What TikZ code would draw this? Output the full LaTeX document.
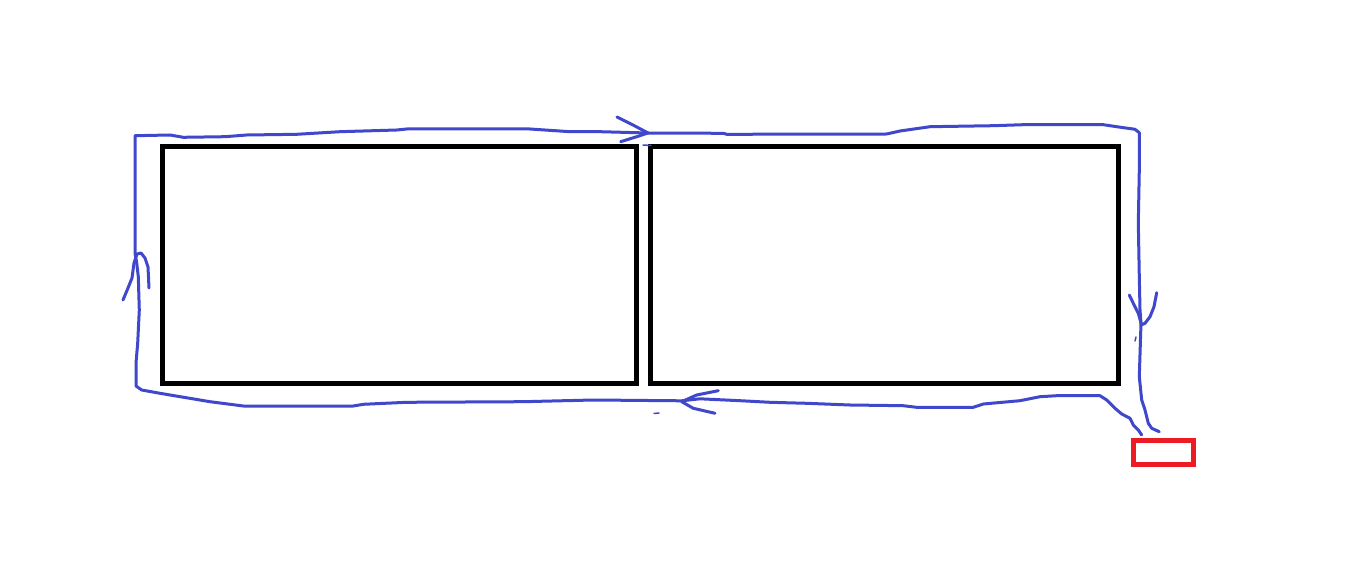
\documentclass[tikz,border=0pt]{standalone}
\definecolor{penblue}{RGB}{63,72,204}
\definecolor{penred}{RGB}{237,28,36}
\begin{document}
\begin{tikzpicture}[x=1pt,y=-1pt,
  box/.style={draw=black,line width=5pt,inner sep=0pt,outer sep=0pt},
  redbox/.style={draw=penred,line width=5pt,inner sep=0pt,outer sep=0pt},
  sketch/.style={draw=penblue,line width=3pt,line cap=round,line join=round},
  speck/.style={draw=penblue,line width=1.5pt,line cap=round}]
\fill[white] (0,0) rectangle (1347,588);
\useasboundingbox (0,0) rectangle (1347,588);
% rectangles
\node[box,minimum width=474pt,minimum height=237pt] (L) at (399.5,265) {};
\node[box,minimum width=468pt,minimum height=237pt] (R) at (884.5,265) {};
\node[redbox,minimum width=60pt,minimum height=24pt] (T) at (1163.5,452) {};
% named ends of the hand-drawn loop
\coordinate (bstart) at (1141.7,435);
\coordinate (rend) at (1159.3,431.7);
% hand-drawn loop
\draw[sketch] (bstart) -- (1138.3,430) -- (1133.3,425) -- (1130,418.3) -- (1121.7,414)
  -- (1115,408.3) -- (1106.7,400) -- (1100,395.7) -- (1056.7,395.7) -- (1040,396.7)
  -- (1020,400.7) -- (983.3,404) -- (973.3,407.3) -- (916.7,407.3) -- (903,405.7)
  -- (850,405) -- (806.7,403.3) -- (770,402.3) -- (740,400.7) -- (700,398.8)
  -- (681.7,400.8) -- (593.3,400) -- (523.3,401.7) -- (406.7,402.3) -- (363.3,404.3)
  -- (353.3,406) -- (243.3,406) -- (210,401.7) -- (160,393.3) -- (141.7,390)
  -- (136,386) -- (136,363) -- (137.7,343) -- (139.3,310) -- (138.3,276.7)
  -- (136.7,263) -- (135,253) -- (135,135.7) -- (170,135) -- (183.3,137.3)
  -- (225,136.7) -- (246.7,135) -- (296.7,134.3) -- (340,131.7) -- (396.7,130)
  -- (406.7,129) -- (530,129) -- (570,131.7) -- (600,131.7) -- (648,133)
  -- (723.3,133.3) -- (726.7,134.3) -- (886.7,134) -- (900,131) -- (930,126.7)
  -- (993.3,125.7) -- (1023.3,124.7) -- (1103.3,124.7) -- (1116.7,126.7)
  -- (1135,129.3) -- (1139.3,132.7) -- (1139.3,170) -- (1138.3,223) -- (1139.3,276.7)
  -- (1140,310) -- (1141,323) -- (1139.3,376.7) -- (1141.7,400) -- (1145,410)
  -- (1148.3,423.3) -- (1151.7,428.3) -- (rend);
% hand-drawn arrowheads
\draw[sketch] (123,300) -- (128,288) -- (132,278) -- (134,263) -- (137,254)
  -- (141,253) -- (145,258) -- (148,267) -- (149,288);
\draw[sketch] (617,117) -- (633,125) -- (648,133) -- (636.7,136.7) -- (620.7,141.7);
\draw[sketch] (718.3,390.7) -- (696.7,395) -- (681.7,401.7) -- (693.3,408.3) -- (715,413.3);
\draw[sketch] (1129.3,295) -- (1133.3,303.3) -- (1138.3,313.3) -- (1141,323);
\draw[sketch] (1156.7,292.7) -- (1154,306.7) -- (1150,316.7) -- (1145,323.3) -- (1141,325);
% specks
\draw[speck] (1135,341) -- (1136,337);
\draw[speck] (654,413.5) -- (659,413);
\draw[speck] (643,145) -- (651,145.5);
\end{tikzpicture}
\end{document}
